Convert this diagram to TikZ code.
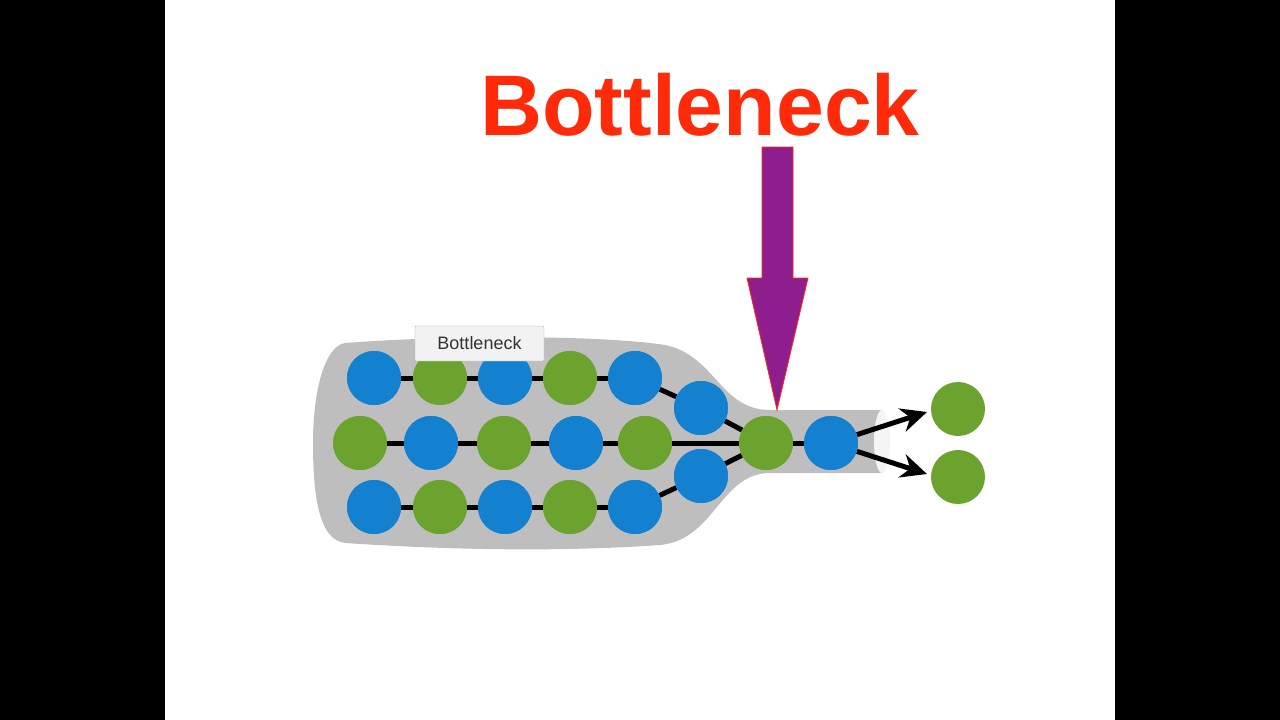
\documentclass[tikz,border=0pt]{standalone}
\usepackage{fontspec}
\setmainfont{Liberation Sans}
\usetikzlibrary{arrows.meta}
\definecolor{cb}{HTML}{1380D0}
\definecolor{cg}{HTML}{6BA32E}
\definecolor{bot}{HTML}{BEBEBE}
\definecolor{ttl}{HTML}{FF2A0A}
\definecolor{pur}{HTML}{8E1E8E}
\tikzset{
  ball/.style={circle,minimum size=54pt,inner sep=0pt},
  bb/.style={ball,fill=cb},
  gb/.style={ball,fill=cg},
  link/.style={line width=5pt,black}
}
\begin{document}
\begin{tikzpicture}[x=1pt,y=-1pt]
\useasboundingbox (0,0) rectangle (1280,720);
\fill[black] (0,0) rectangle (165,720);
\fill[black] (1115,0) rectangle (1280,720);
% bottle
\fill[bot] (345,343) .. controls (450,335) and (600,335) .. (665,345)
  .. controls (715,355) and (720,410) .. (770,410) -- (882,410)
  -- (882,473) -- (770,473) .. controls (720,473) and (715,540) .. (660,545)
  .. controls (560,552) and (450,550) .. (345,543)
  .. controls (320,540) and (313,500) .. (313,443)
  .. controls (313,390) and (325,346) .. (345,343) -- cycle;
\fill[white!85!bot] (882,441.5) ellipse (8 and 31.5);
% nodes
\node[bb] (a1) at (374,378) {}; \node[gb] (a2) at (440,378) {};
\node[bb] (a3) at (505,378) {}; \node[gb] (a4) at (570,378) {};
\node[bb] (a5) at (635,378) {};
\node[gb] (b1) at (360,443) {}; \node[bb] (b2) at (431,443) {};
\node[gb] (b3) at (504,443) {}; \node[bb] (b4) at (576,443) {};
\node[gb] (b5) at (645,443) {};
\node[bb] (c1) at (374,507) {}; \node[gb] (c2) at (440,507) {};
\node[bb] (c3) at (505,507) {}; \node[gb] (c4) at (570,507) {};
\node[bb] (c5) at (635,507) {};
\node[bb] (m1) at (701,408) {}; \node[bb] (m2) at (701,476) {};
\node[gb] (n) at (766,443) {}; \node[bb] (o) at (831,443) {};
\node[gb] (p1) at (958,409) {}; \node[gb] (p2) at (958,477) {};
\coordinate (t1) at (927,412); \coordinate (t2) at (927,474);
% links
\foreach \u/\v in {a1/a2,a2/a3,a3/a4,a4/a5,a5/m1,m1/n,b1/b2,b2/b3,b3/b4,b4/b5,b5/n,c1/c2,c2/c3,c3/c4,c4/c5,c5/m2,m2/n,n/o}
  \draw[link] (\u) -- (\v);
\draw[link,-{Stealth[length=26pt,width=24pt]}] (o) -- (t1);
\draw[link,-{Stealth[length=26pt,width=24pt]}] (o) -- (t2);
% redraw balls on top of links
\foreach \n/\c in {a1/cb,a2/cg,a3/cb,a4/cg,a5/cb,b1/cg,b2/cb,b3/cg,b4/cb,b5/cg,c1/cb,c2/cg,c3/cb,c4/cg,c5/cb,m1/cb,m2/cb,n/cg,o/cb}
  \fill[\c] (\n) circle (27);
% arrow
\fill[pur,draw=ttl,line width=0.8pt] (762,147) -- (793,147) -- (793,278) -- (808,278)
  -- (777,410) -- (747,278) -- (762,278) -- cycle;
% title
\node[text=ttl,font=\fontsize{86}{90}\selectfont\bfseries] (title) at (700,105) {Bottleneck};
% tooltip
\node[draw=gray!60,fill=gray!10,rounded corners=1pt,minimum width=129pt,minimum height=35pt,
  font=\fontsize{18}{20}\selectfont,text=black!80] (tip) at (479.5,343.5) {Bottleneck};
\end{tikzpicture}
\end{document}
